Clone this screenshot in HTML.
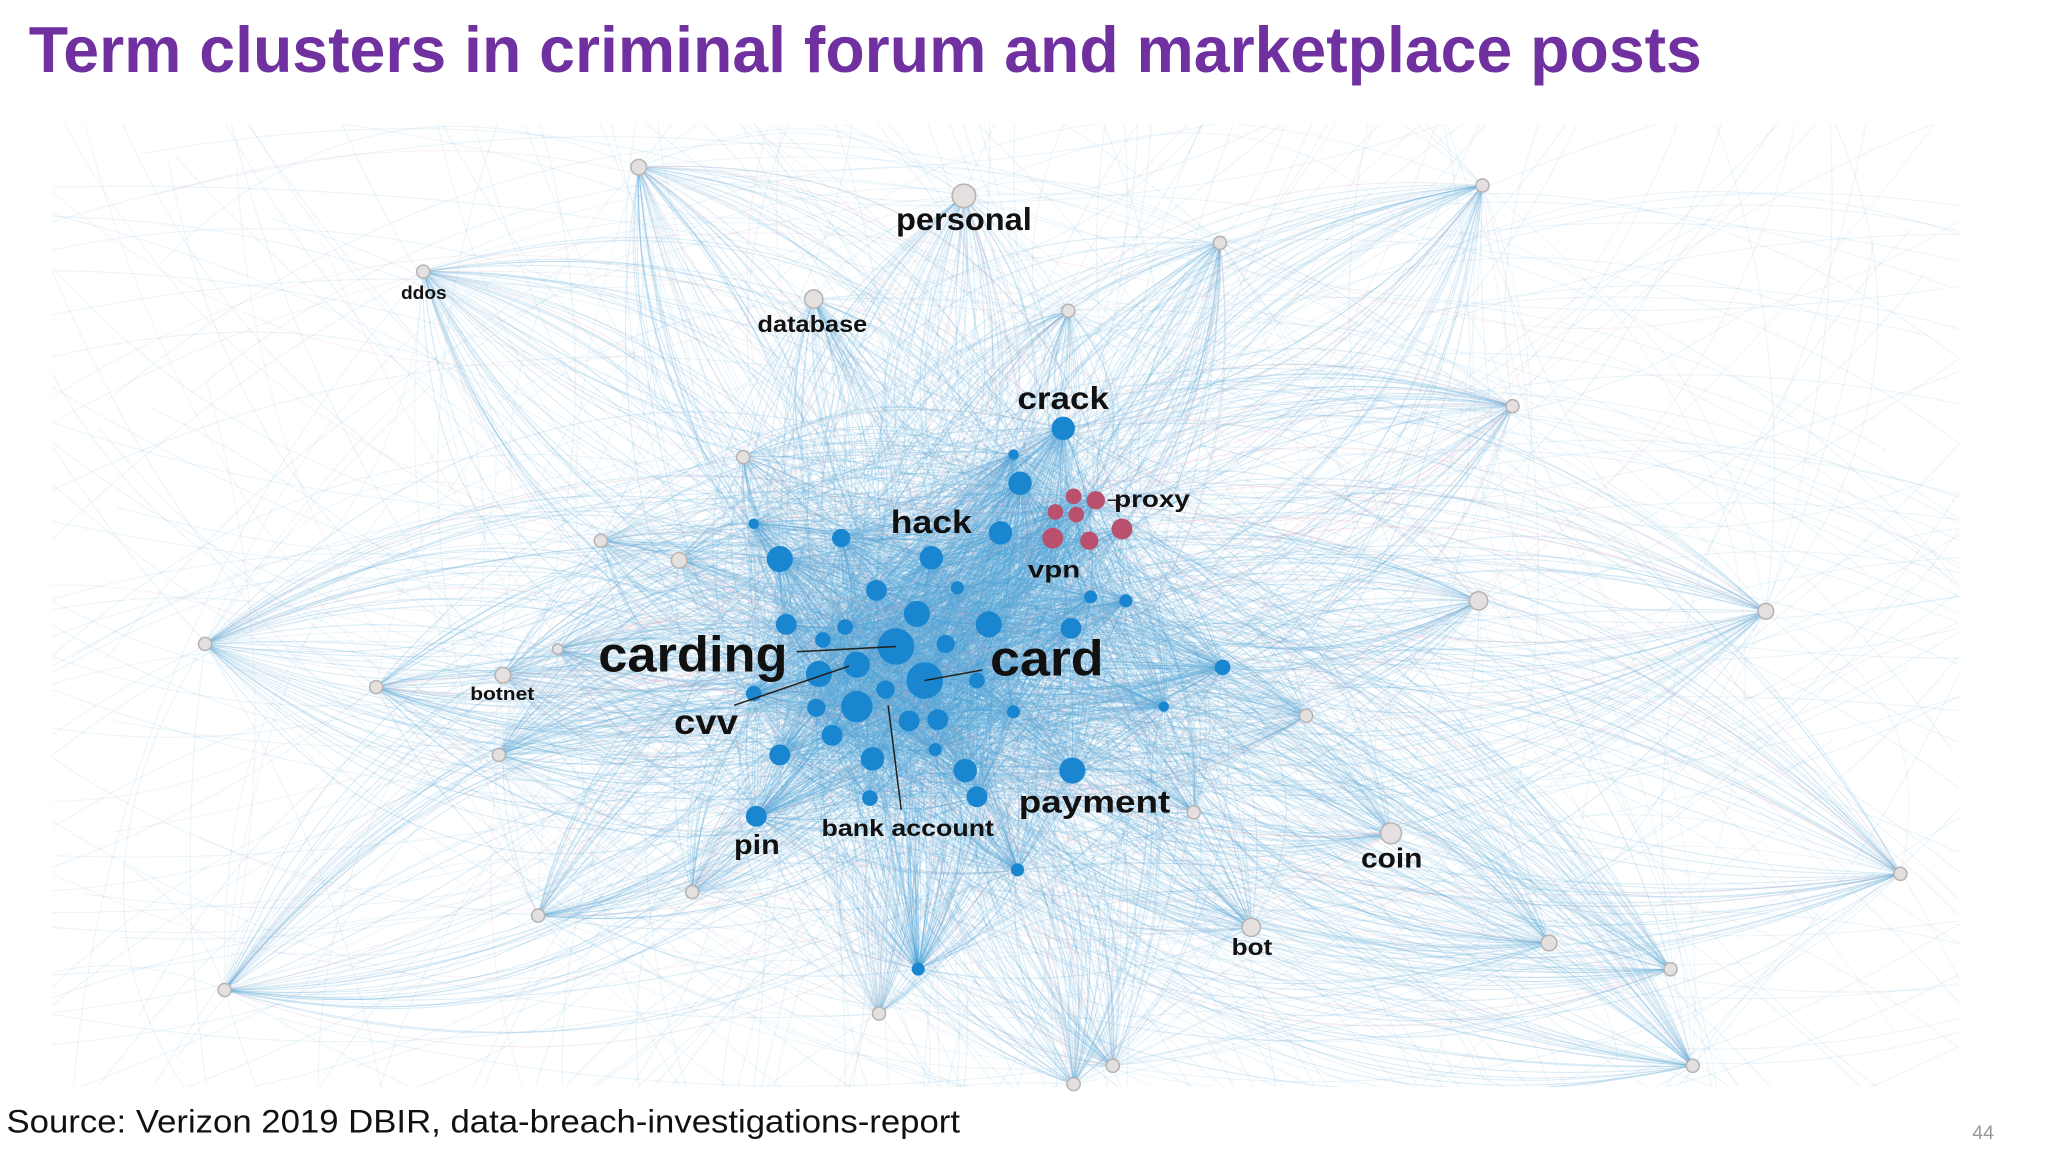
<!DOCTYPE html>
<html><head><meta charset="utf-8"><style>
html,body{margin:0;padding:0;background:#fff;width:2048px;height:1152px;overflow:hidden}
svg{display:block;position:absolute;left:0;top:0}
.lb{font-family:"Liberation Sans",Arial,sans-serif;font-weight:bold;fill:#111}
</style></head><body>
<svg id="s" width="2048" height="1152" viewBox="0 0 1568 882" xmlns="http://www.w3.org/2000/svg">
<defs><clipPath id="c"><rect x="40" y="95" width="1460" height="737"/></clipPath></defs>
<rect width="1568" height="882" fill="#fff"/>
<g id="edges" clip-path="url(#c)" fill="none"></g>
<g id="nodes"></g>
<g stroke="#222" stroke-width="1.2">
<line x1="610" y1="499" x2="686" y2="495"/>
<line x1="752" y1="513" x2="708" y2="521"/>
<line x1="562" y1="540" x2="650" y2="510"/>
<line x1="690" y1="620" x2="680" y2="540"/>
<line x1="848" y1="383" x2="858" y2="383"/>
</g>
<text class="lb" x="686" y="176" font-size="24" textLength="104" lengthAdjust="spacingAndGlyphs">personal</text>
<text class="lb" x="307" y="229" font-size="14" textLength="35" lengthAdjust="spacingAndGlyphs">ddos</text>
<text class="lb" x="580" y="254" font-size="18" textLength="84" lengthAdjust="spacingAndGlyphs">database</text>
<text class="lb" x="779" y="313" font-size="24" textLength="70" lengthAdjust="spacingAndGlyphs">crack</text>
<text class="lb" x="853" y="388" font-size="18" textLength="58" lengthAdjust="spacingAndGlyphs">proxy</text>
<text class="lb" x="682" y="408" font-size="25" textLength="62" lengthAdjust="spacingAndGlyphs">hack</text>
<text class="lb" x="787" y="442" font-size="18" textLength="40" lengthAdjust="spacingAndGlyphs">vpn</text>
<text class="lb" x="458" y="514" font-size="38" textLength="145" lengthAdjust="spacingAndGlyphs">carding</text>
<text class="lb" x="758" y="517" font-size="38" textLength="87" lengthAdjust="spacingAndGlyphs">card</text>
<text class="lb" x="360" y="536" font-size="14" textLength="49" lengthAdjust="spacingAndGlyphs">botnet</text>
<text class="lb" x="516" y="562" font-size="27" textLength="49" lengthAdjust="spacingAndGlyphs">cvv</text>
<text class="lb" x="780" y="622" font-size="24" textLength="116" lengthAdjust="spacingAndGlyphs">payment</text>
<text class="lb" x="629" y="640" font-size="18" textLength="132" lengthAdjust="spacingAndGlyphs">bank account</text>
<text class="lb" x="562" y="654" font-size="21" textLength="35" lengthAdjust="spacingAndGlyphs">pin</text>
<text class="lb" x="1042" y="664" font-size="21" textLength="47" lengthAdjust="spacingAndGlyphs">coin</text>
<text class="lb" x="943" y="731" font-size="18" textLength="31" lengthAdjust="spacingAndGlyphs">bot</text>
<text x="22" y="55" font-family="Liberation Sans,Arial,sans-serif" font-weight="bold" font-size="50" fill="#7030a0" textLength="1281" lengthAdjust="spacingAndGlyphs">Term clusters in criminal forum and marketplace posts</text>
<text x="5" y="867" font-family="Liberation Sans,Arial,sans-serif" font-size="25" fill="#111" textLength="730" lengthAdjust="spacingAndGlyphs">Source: Verizon 2019 DBIR, data-breach-investigations-report</text>
<text x="1510" y="872" font-family="Liberation Sans,Arial,sans-serif" font-size="15" fill="#999">44</text>
</svg>
<script>
(function(){
var seed=12345;function R(){seed=(seed*1103515245+12345)%2147483648;return seed/2147483648;}
var blue=[[814,328,9],[781,370,9],[776,348,4],[766,408,9],[713,427,9],[644,412,7],[597,428,10],[577,401,4],[671,452,8],[702,470,10],[602,478,8],[630,490,6],[647,480,6],[686,495,14],[708,521,14],[656,509,10],[627,516,10],[724,493,7],[757,478,10],[733,450,5],[820,481,8],[835,457,5],[862,460,5],[936,511,6],[891,541,4],[776,545,5],[748,521,6],[718,551,8],[696,552,8],[678,528,7],[656,541,12],[625,542,7],[637,563,8],[597,578,8],[577,531,6],[668,581,9],[716,574,5],[739,590,9],[748,610,8],[666,611,6],[779,666,5],[703,742,5],[821,590,10],[579,625,8]];
var red=[[822,380,6],[839,383,7],[808,392,6],[824,394,6],[806,412,8],[834,414,7],[859,405,8]];
var gray=[[489,128,6],[1135,142,5],[934,186,5],[818,238,5],[1158,311,5],[569,350,5],[460,414,5],[520,429,6],[1132,460,7],[1352,468,6],[157,493,5],[288,526,5],[427,497,4],[382,578,5],[1000,548,5],[914,622,5],[530,683,5],[412,701,5],[1186,722,6],[1279,742,5],[1455,669,5],[172,758,5],[673,776,5],[1296,816,5],[822,830,5],[852,816,5],[738,150,9],[324,208,5],[623,229,7],[385,517,6],[1065,638,8],[958,710,7]];
var core=blue.concat(red);
var E=[];
function bend(){return (R()<0.5?-1:1)*(0.12+R()*0.3);}
function curve(a,b,bd,col,op,w){var mx=(a[0]+b[0])/2,my=(a[1]+b[1])/2,dx=b[0]-a[0],dy=b[1]-a[1];var cx=mx-dy*bd,cy=my+dx*bd;E.push('<path d="M'+a[0].toFixed(1)+' '+a[1].toFixed(1)+'Q'+cx.toFixed(1)+' '+cy.toFixed(1)+' '+b[0].toFixed(1)+' '+b[1].toFixed(1)+'" stroke="'+col+'" stroke-opacity="'+op+'" stroke-width="'+w+'"/>');}
for(var i=0;i<1800;i++){var a=blue[Math.floor(R()*blue.length)],b=core[Math.floor(R()*core.length)];curve(a,b,(R()-0.5)*0.6,'#3d9ad6',0.22,0.8);}
for(var g=0;g<gray.length;g++){for(var k=0;k<45;k++){var b=core[Math.floor(R()*core.length)];curve(gray[g],b,bend(),R()<0.1?'#d9a0b8':'#5aaad8',0.22,0.8);}}
for(var i=0;i<380;i++){var ang=R()*Math.PI*2,rr=500+R()*400;var a=[760+Math.cos(ang)*rr*1.3,470+Math.sin(ang)*rr*0.9];var b=R()<0.5?core[Math.floor(R()*core.length)]:gray[Math.floor(R()*gray.length)];curve(a,b,bend(),R()<0.12?'#d9a0b8':'#6fb4dc',0.15,0.8);}
for(var i=0;i<200;i++){var a=gray[Math.floor(R()*gray.length)],b=gray[Math.floor(R()*gray.length)];curve(a,b,bend()*1.3,'#8cc4e4',0.15,0.8);}
document.getElementById('edges').innerHTML=E.join('');
var N=[];
gray.forEach(function(n){N.push('<circle cx="'+n[0]+'" cy="'+n[1]+'" r="'+n[2]+'" fill="#e4e0e0" stroke="#b8b4b4" stroke-width="1.2"/>');});
blue.forEach(function(n){N.push('<circle cx="'+n[0]+'" cy="'+n[1]+'" r="'+n[2]+'" fill="#1a86cf"/>');});
red.forEach(function(n){N.push('<circle cx="'+n[0]+'" cy="'+n[1]+'" r="'+n[2]+'" fill="#b8506e"/>');});
document.getElementById('nodes').innerHTML=N.join('');
})();
</script>
</body></html>
